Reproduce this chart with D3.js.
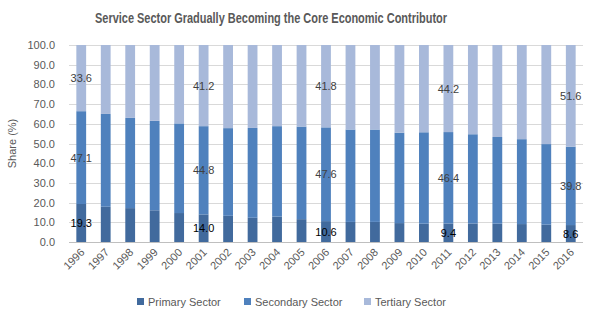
<!DOCTYPE html>
<html><head><meta charset="utf-8">
<script src="https://cdn.jsdelivr.net/npm/d3@7"></script>
<style>
body{margin:0;background:#fff;}
text{font-family:"Liberation Sans",Arial,sans-serif;}
</style></head>
<body><svg id="c" width="599" height="322"></svg>
<script>
const years = ["1996","1997","1998","1999","2000","2001","2002","2003","2004","2005","2006","2007","2008","2009","2010","2011","2012","2013","2014","2015","2016"];
const primary   = [19.3,17.9,17.2,16.1,14.7,14.0,13.3,12.3,12.9,11.6,10.6,10.2,10.2,9.6,9.3,9.4,9.4,9.3,9.1,8.8,8.6];
const secondary = [47.1,47.1,45.8,45.4,45.5,44.8,44.5,45.6,45.9,47.0,47.6,46.9,46.9,45.9,46.4,46.4,45.3,44.0,43.1,40.9,39.8];
const tertiary  = [33.6,35.0,37.0,38.5,39.8,41.2,42.2,42.1,41.2,41.4,41.8,42.9,42.9,44.5,44.3,44.2,45.3,46.7,47.8,50.3,51.6];
const seriesNames = ["Primary Sector","Secondary Sector","Tertiary Sector"];
const yTicks = [0,10,20,30,40,50,60,70,80,90,100];
const labeledYears = ["1996","2001","2006","2011","2016"];
const title = "Service Sector Gradually Becoming the Core Economic Contributor";
const yTitle = "Share (%)";

const colors = ["#416A9D","#4F81BD","#A8B9DA"];
const labelColors = ["#000000","#404040","#404040"];

const svg = d3.select("#c");
const L=69, R=583, T=45, B=242;

const x = d3.scaleBand().domain(years).range([L,R]).paddingInner(0.6).paddingOuter(0.3);
const y = d3.scaleLinear().domain([0,100]).range([B,T]);

const rows = years.map((yr,i)=>({year:yr, p:primary[i], s:secondary[i], t:tertiary[i]}));
const stack = d3.stack().keys(["p","s","t"])(rows);

// gridlines
svg.append("g").selectAll("line").data(yTicks).join("line")
  .attr("x1",L).attr("x2",R).attr("y1",d=>Math.round(y(d))+0.5).attr("y2",d=>Math.round(y(d))+0.5)
  .attr("stroke",d=>d===0?"#BFBFBF":"#D9D9D9").attr("stroke-width",1);

// y tick labels
svg.append("g").selectAll("text").data(yTicks).join("text")
  .attr("x",55).attr("y",d=>y(d)+4).attr("text-anchor","end")
  .attr("font-size","11px").attr("fill","#595959").text(d=>d.toFixed(1));

// bars
stack.forEach((layer,k)=>{
  svg.append("g").selectAll("rect").data(layer).join("rect")
    .attr("x",d=>x(d.data.year)).attr("width",x.bandwidth())
    .attr("y",d=>y(d[1])).attr("height",d=>y(d[0])-y(d[1]))
    .attr("fill",colors[k]);
});

// data labels
stack.forEach((layer,k)=>{
  svg.append("g").selectAll("text").data(layer.filter(d=>labeledYears.includes(d.data.year))).join("text")
    .attr("x",d=>x(d.data.year)+x.bandwidth()/2).attr("y",d=>y((d[0]+d[1])/2)+4)
    .attr("text-anchor","middle").attr("font-size","11px").attr("fill",labelColors[k])
    .text(d=>(d[1]-d[0]).toFixed(1));
});

// x labels
svg.append("g").selectAll("text").data(years).join("text")
  .attr("transform",d=>`translate(${x(d)+x.bandwidth()/2+4},${253}) rotate(-45)`)
  .attr("text-anchor","end").attr("font-size","11px").attr("fill","#595959").text(d=>d);

// y title
svg.append("text").attr("transform",`translate(16,${(T+B)/2}) rotate(-90)`)
  .attr("text-anchor","middle").attr("font-size","11px").attr("fill","#595959").text(yTitle);

// title
const tt = svg.append("text").attr("x",271).attr("y",23).attr("text-anchor","middle")
  .attr("font-size","14px").attr("font-weight","bold").attr("fill","#595959").text(title);
const tw = tt.node().getComputedTextLength();
if (tw>352) tt.attr("textLength",352).attr("lengthAdjust","spacingAndGlyphs");

// legend
const legX=[137,244,364];
const lg = svg.append("g").selectAll("g").data(seriesNames).join("g")
  .attr("transform",(d,i)=>`translate(${legX[i]},298)`);
lg.append("rect").attr("width",7).attr("height",7).attr("fill",(d,i)=>colors[i]);
lg.append("text").attr("x",11).attr("y",8).attr("font-size","11px").attr("fill","#595959").text(d=>d);
</script></body></html>
